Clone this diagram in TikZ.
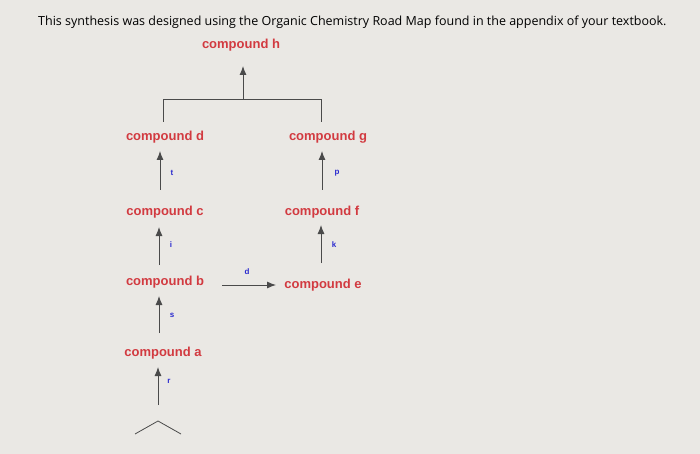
\documentclass[tikz,border=0pt]{standalone}
\usepackage{fontspec}
\usetikzlibrary{arrows.meta}
\setmainfont{Liberation Sans}
\newfontfamily\titlefont{Open Sans}
\definecolor{bg}{HTML}{EAE8E4}
\definecolor{cred}{HTML}{D23A40}
\definecolor{cblue}{HTML}{2A2ACF}
\definecolor{ln}{HTML}{4A4A4A}
\begin{document}
\begin{tikzpicture}[x=1pt,y=-1pt,
  cmp/.style={text=cred,font=\fontsize{13}{15}\selectfont\bfseries,inner sep=0pt},
  rg/.style={text=cblue,font=\fontsize{8}{9}\selectfont\bfseries,inner sep=0pt},
  arr/.style={draw=ln,line width=0.9pt,-{Latex[length=9pt,width=7pt]}},
  br/.style={draw=ln,line width=1pt}]
\fill[bg] (0,0) rectangle (700,454);
\useasboundingbox (0,0) rectangle (700,454);
\node[anchor=west,inner sep=0pt,font=\titlefont\fontsize{12.5}{14}\selectfont] (title) at (38,22) {This synthesis was designed using the Organic Chemistry Road Map found in the appendix of your textbook.};
\node[cmp] (h) at (241,45) {compound h};
\node[cmp] (d) at (165,137) {compound d};
\node[cmp] (g) at (328,137) {compound g};
\node[cmp] (c) at (165,212) {compound c};
\node[cmp] (f) at (322,212) {compound f};
\node[cmp] (b) at (165,282) {compound b};
\node[cmp] (e) at (323,285) {compound e};
\node[cmp] (a) at (163,353) {compound a};
\coordinate (bl) at (163,122); \coordinate (br) at (321,122);
\coordinate (bm) at (243,100);
\draw[br] (bl) -- (163,100) -- (321,100) -- (br);
\draw[arr] (bm) -- (243,66);
\coordinate (t0) at (160,190); \coordinate (t1) at (160,151);
\draw[arr] (t0) -- (t1); \node[rg] (lt) at (172,173) {t};
\coordinate (p0) at (322,190); \coordinate (p1) at (322,151);
\draw[arr] (p0) -- (p1); \node[rg] (lp) at (337,173) {p};
\coordinate (i0) at (159,265); \coordinate (i1) at (159,227);
\draw[arr] (i0) -- (i1); \node[rg] (li) at (171,245) {i};
\coordinate (k0) at (321,263); \coordinate (k1) at (321,225);
\draw[arr] (k0) -- (k1); \node[rg] (lk) at (334,245) {k};
\coordinate (d0) at (222,285); \coordinate (d1) at (276,285);
\draw[arr] (d0) -- (d1); \node[rg] (ld) at (247,272) {d};
\coordinate (s0) at (159,333); \coordinate (s1) at (159,296);
\draw[arr] (s0) -- (s1); \node[rg] (ls) at (172,315) {s};
\coordinate (r0) at (158,405); \coordinate (r1) at (158,367);
\draw[arr] (r0) -- (r1); \node[rg] (lr) at (169,381) {r};
\coordinate (m1) at (135,434); \coordinate (m2) at (158,421); \coordinate (m3) at (181,434);
\draw[draw=ln,line width=0.8pt] (m1) -- (m2) -- (m3);
\end{tikzpicture}
\end{document}
